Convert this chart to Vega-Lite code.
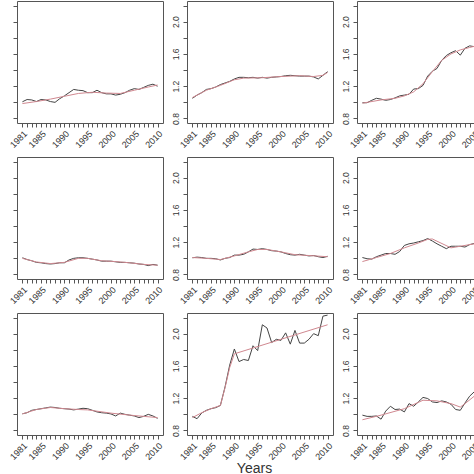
{
  "$schema": "https://vega.github.io/schema/vega-lite/v6.json",
  "padding": {"left": 7, "top": 0, "right": 0, "bottom": 0},
  "background": "white",
  "columns": 3,
  "spacing": {"row": 34, "column": 24},
  "bounds": "flush",
  "datasets": {
    "d": [
      {"p":1,"s":"obs","year":1981,"v":1.007},{"p":1,"s":"obs","year":1982,"v":1.035},{"p":1,"s":"obs","year":1983,"v":1.03},{"p":1,"s":"obs","year":1984,"v":1.01},{"p":1,"s":"obs","year":1985,"v":1.035},{"p":1,"s":"obs","year":1986,"v":1.03},{"p":1,"s":"obs","year":1987,"v":1.01},{"p":1,"s":"obs","year":1988,"v":1.0},{"p":1,"s":"obs","year":1989,"v":1.045},{"p":1,"s":"obs","year":1990,"v":1.08},{"p":1,"s":"obs","year":1991,"v":1.12},{"p":1,"s":"obs","year":1992,"v":1.16},{"p":1,"s":"obs","year":1993,"v":1.15},{"p":1,"s":"obs","year":1994,"v":1.145},{"p":1,"s":"obs","year":1995,"v":1.12},{"p":1,"s":"obs","year":1996,"v":1.12},{"p":1,"s":"obs","year":1997,"v":1.15},{"p":1,"s":"obs","year":1998,"v":1.12},{"p":1,"s":"obs","year":1999,"v":1.105},{"p":1,"s":"obs","year":2000,"v":1.105},{"p":1,"s":"obs","year":2001,"v":1.09},{"p":1,"s":"obs","year":2002,"v":1.1},{"p":1,"s":"obs","year":2003,"v":1.12},{"p":1,"s":"obs","year":2004,"v":1.15},{"p":1,"s":"obs","year":2005,"v":1.17},{"p":1,"s":"obs","year":2006,"v":1.16},{"p":1,"s":"obs","year":2007,"v":1.185},{"p":1,"s":"obs","year":2008,"v":1.21},{"p":1,"s":"obs","year":2009,"v":1.225},{"p":1,"s":"obs","year":2010,"v":1.2},
      {"p":1,"s":"fit","year":1981,"v":0.985},{"p":1,"s":"fit","year":1984,"v":1.01},{"p":1,"s":"fit","year":1987,"v":1.04},{"p":1,"s":"fit","year":1990,"v":1.075},{"p":1,"s":"fit","year":1993,"v":1.11},{"p":1,"s":"fit","year":1996,"v":1.125},{"p":1,"s":"fit","year":1999,"v":1.115},{"p":1,"s":"fit","year":2002,"v":1.11},{"p":1,"s":"fit","year":2005,"v":1.15},{"p":1,"s":"fit","year":2008,"v":1.19},{"p":1,"s":"fit","year":2010,"v":1.215},

      {"p":2,"s":"obs","year":1981,"v":1.05},{"p":2,"s":"obs","year":1982,"v":1.09},{"p":2,"s":"obs","year":1983,"v":1.12},{"p":2,"s":"obs","year":1984,"v":1.16},{"p":2,"s":"obs","year":1985,"v":1.17},{"p":2,"s":"obs","year":1986,"v":1.19},{"p":2,"s":"obs","year":1987,"v":1.22},{"p":2,"s":"obs","year":1988,"v":1.24},{"p":2,"s":"obs","year":1989,"v":1.26},{"p":2,"s":"obs","year":1990,"v":1.29},{"p":2,"s":"obs","year":1991,"v":1.31},{"p":2,"s":"obs","year":1992,"v":1.31},{"p":2,"s":"obs","year":1993,"v":1.305},{"p":2,"s":"obs","year":1994,"v":1.31},{"p":2,"s":"obs","year":1995,"v":1.3},{"p":2,"s":"obs","year":1996,"v":1.31},{"p":2,"s":"obs","year":1997,"v":1.3},{"p":2,"s":"obs","year":1998,"v":1.31},{"p":2,"s":"obs","year":1999,"v":1.315},{"p":2,"s":"obs","year":2000,"v":1.32},{"p":2,"s":"obs","year":2001,"v":1.33},{"p":2,"s":"obs","year":2002,"v":1.335},{"p":2,"s":"obs","year":2003,"v":1.33},{"p":2,"s":"obs","year":2004,"v":1.325},{"p":2,"s":"obs","year":2005,"v":1.325},{"p":2,"s":"obs","year":2006,"v":1.325},{"p":2,"s":"obs","year":2007,"v":1.315},{"p":2,"s":"obs","year":2008,"v":1.29},{"p":2,"s":"obs","year":2009,"v":1.335},{"p":2,"s":"obs","year":2010,"v":1.38},
      {"p":2,"s":"fit","year":1981,"v":1.06},{"p":2,"s":"fit","year":1984,"v":1.15},{"p":2,"s":"fit","year":1987,"v":1.21},{"p":2,"s":"fit","year":1990,"v":1.28},{"p":2,"s":"fit","year":1992,"v":1.3},{"p":2,"s":"fit","year":1996,"v":1.305},{"p":2,"s":"fit","year":2000,"v":1.32},{"p":2,"s":"fit","year":2004,"v":1.33},{"p":2,"s":"fit","year":2007,"v":1.32},{"p":2,"s":"fit","year":2009,"v":1.335},{"p":2,"s":"fit","year":2010,"v":1.37},

      {"p":3,"s":"obs","year":1981,"v":0.995},{"p":3,"s":"obs","year":1982,"v":0.995},{"p":3,"s":"obs","year":1983,"v":1.025},{"p":3,"s":"obs","year":1984,"v":1.05},{"p":3,"s":"obs","year":1985,"v":1.04},{"p":3,"s":"obs","year":1986,"v":1.025},{"p":3,"s":"obs","year":1987,"v":1.035},{"p":3,"s":"obs","year":1988,"v":1.055},{"p":3,"s":"obs","year":1989,"v":1.08},{"p":3,"s":"obs","year":1990,"v":1.09},{"p":3,"s":"obs","year":1991,"v":1.1},{"p":3,"s":"obs","year":1992,"v":1.165},{"p":3,"s":"obs","year":1993,"v":1.17},{"p":3,"s":"obs","year":1994,"v":1.21},{"p":3,"s":"obs","year":1995,"v":1.325},{"p":3,"s":"obs","year":1996,"v":1.385},{"p":3,"s":"obs","year":1997,"v":1.42},{"p":3,"s":"obs","year":1998,"v":1.52},{"p":3,"s":"obs","year":1999,"v":1.58},{"p":3,"s":"obs","year":2000,"v":1.615},{"p":3,"s":"obs","year":2001,"v":1.64},{"p":3,"s":"obs","year":2002,"v":1.585},{"p":3,"s":"obs","year":2003,"v":1.67},{"p":3,"s":"obs","year":2004,"v":1.7},{"p":3,"s":"obs","year":2005,"v":1.69},{"p":3,"s":"obs","year":2006,"v":1.66},{"p":3,"s":"obs","year":2007,"v":1.71},{"p":3,"s":"obs","year":2008,"v":1.73},{"p":3,"s":"obs","year":2009,"v":1.74},{"p":3,"s":"obs","year":2010,"v":1.76},
      {"p":3,"s":"fit","year":1981,"v":0.99},{"p":3,"s":"fit","year":1985,"v":1.03},{"p":3,"s":"fit","year":1988,"v":1.05},{"p":3,"s":"fit","year":1990,"v":1.08},{"p":3,"s":"fit","year":1992,"v":1.13},{"p":3,"s":"fit","year":1994,"v":1.23},{"p":3,"s":"fit","year":1996,"v":1.38},{"p":3,"s":"fit","year":1998,"v":1.52},{"p":3,"s":"fit","year":2000,"v":1.6},{"p":3,"s":"fit","year":2002,"v":1.65},{"p":3,"s":"fit","year":2004,"v":1.68},{"p":3,"s":"fit","year":2006,"v":1.71},{"p":3,"s":"fit","year":2008,"v":1.73},{"p":3,"s":"fit","year":2010,"v":1.75},

      {"p":4,"s":"obs","year":1981,"v":1.007},{"p":4,"s":"obs","year":1982,"v":0.985},{"p":4,"s":"obs","year":1983,"v":0.97},{"p":4,"s":"obs","year":1984,"v":0.95},{"p":4,"s":"obs","year":1985,"v":0.945},{"p":4,"s":"obs","year":1986,"v":0.935},{"p":4,"s":"obs","year":1987,"v":0.93},{"p":4,"s":"obs","year":1988,"v":0.935},{"p":4,"s":"obs","year":1989,"v":0.945},{"p":4,"s":"obs","year":1990,"v":0.945},{"p":4,"s":"obs","year":1991,"v":0.98},{"p":4,"s":"obs","year":1992,"v":1.0},{"p":4,"s":"obs","year":1993,"v":1.007},{"p":4,"s":"obs","year":1994,"v":1.007},{"p":4,"s":"obs","year":1995,"v":1.0},{"p":4,"s":"obs","year":1996,"v":0.99},{"p":4,"s":"obs","year":1997,"v":0.98},{"p":4,"s":"obs","year":1998,"v":0.965},{"p":4,"s":"obs","year":1999,"v":0.965},{"p":4,"s":"obs","year":2000,"v":0.965},{"p":4,"s":"obs","year":2001,"v":0.957},{"p":4,"s":"obs","year":2002,"v":0.95},{"p":4,"s":"obs","year":2003,"v":0.95},{"p":4,"s":"obs","year":2004,"v":0.945},{"p":4,"s":"obs","year":2005,"v":0.94},{"p":4,"s":"obs","year":2006,"v":0.93},{"p":4,"s":"obs","year":2007,"v":0.925},{"p":4,"s":"obs","year":2008,"v":0.91},{"p":4,"s":"obs","year":2009,"v":0.925},{"p":4,"s":"obs","year":2010,"v":0.915},
      {"p":4,"s":"fit","year":1981,"v":1.0},{"p":4,"s":"fit","year":1984,"v":0.955},{"p":4,"s":"fit","year":1987,"v":0.935},{"p":4,"s":"fit","year":1990,"v":0.95},{"p":4,"s":"fit","year":1993,"v":1.0},{"p":4,"s":"fit","year":1995,"v":1.0},{"p":4,"s":"fit","year":1998,"v":0.97},{"p":4,"s":"fit","year":2001,"v":0.96},{"p":4,"s":"fit","year":2004,"v":0.945},{"p":4,"s":"fit","year":2007,"v":0.925},{"p":4,"s":"fit","year":2010,"v":0.915},

      {"p":5,"s":"obs","year":1981,"v":1.007},{"p":5,"s":"obs","year":1982,"v":1.015},{"p":5,"s":"obs","year":1983,"v":1.01},{"p":5,"s":"obs","year":1984,"v":1.0},{"p":5,"s":"obs","year":1985,"v":1.0},{"p":5,"s":"obs","year":1986,"v":0.995},{"p":5,"s":"obs","year":1987,"v":0.98},{"p":5,"s":"obs","year":1988,"v":1.0},{"p":5,"s":"obs","year":1989,"v":1.01},{"p":5,"s":"obs","year":1990,"v":1.04},{"p":5,"s":"obs","year":1991,"v":1.04},{"p":5,"s":"obs","year":1992,"v":1.05},{"p":5,"s":"obs","year":1993,"v":1.08},{"p":5,"s":"obs","year":1994,"v":1.115},{"p":5,"s":"obs","year":1995,"v":1.11},{"p":5,"s":"obs","year":1996,"v":1.12},{"p":5,"s":"obs","year":1997,"v":1.11},{"p":5,"s":"obs","year":1998,"v":1.095},{"p":5,"s":"obs","year":1999,"v":1.09},{"p":5,"s":"obs","year":2000,"v":1.08},{"p":5,"s":"obs","year":2001,"v":1.06},{"p":5,"s":"obs","year":2002,"v":1.045},{"p":5,"s":"obs","year":2003,"v":1.04},{"p":5,"s":"obs","year":2004,"v":1.05},{"p":5,"s":"obs","year":2005,"v":1.04},{"p":5,"s":"obs","year":2006,"v":1.03},{"p":5,"s":"obs","year":2007,"v":1.035},{"p":5,"s":"obs","year":2008,"v":1.02},{"p":5,"s":"obs","year":2009,"v":1.01},{"p":5,"s":"obs","year":2010,"v":1.025},
      {"p":5,"s":"fit","year":1981,"v":1.01},{"p":5,"s":"fit","year":1984,"v":1.0},{"p":5,"s":"fit","year":1987,"v":0.985},{"p":5,"s":"fit","year":1990,"v":1.03},{"p":5,"s":"fit","year":1993,"v":1.08},{"p":5,"s":"fit","year":1995,"v":1.11},{"p":5,"s":"fit","year":1997,"v":1.11},{"p":5,"s":"fit","year":2000,"v":1.08},{"p":5,"s":"fit","year":2003,"v":1.045},{"p":5,"s":"fit","year":2006,"v":1.035},{"p":5,"s":"fit","year":2010,"v":1.02},

      {"p":6,"s":"obs","year":1981,"v":1.01},{"p":6,"s":"obs","year":1982,"v":0.995},{"p":6,"s":"obs","year":1983,"v":0.99},{"p":6,"s":"obs","year":1984,"v":1.02},{"p":6,"s":"obs","year":1985,"v":1.04},{"p":6,"s":"obs","year":1986,"v":1.06},{"p":6,"s":"obs","year":1987,"v":1.06},{"p":6,"s":"obs","year":1988,"v":1.05},{"p":6,"s":"obs","year":1989,"v":1.085},{"p":6,"s":"obs","year":1990,"v":1.16},{"p":6,"s":"obs","year":1991,"v":1.18},{"p":6,"s":"obs","year":1992,"v":1.19},{"p":6,"s":"obs","year":1993,"v":1.205},{"p":6,"s":"obs","year":1994,"v":1.22},{"p":6,"s":"obs","year":1995,"v":1.245},{"p":6,"s":"obs","year":1996,"v":1.215},{"p":6,"s":"obs","year":1997,"v":1.18},{"p":6,"s":"obs","year":1998,"v":1.15},{"p":6,"s":"obs","year":1999,"v":1.12},{"p":6,"s":"obs","year":2000,"v":1.15},{"p":6,"s":"obs","year":2001,"v":1.15},{"p":6,"s":"obs","year":2002,"v":1.15},{"p":6,"s":"obs","year":2003,"v":1.14},{"p":6,"s":"obs","year":2004,"v":1.17},{"p":6,"s":"obs","year":2005,"v":1.185},{"p":6,"s":"obs","year":2006,"v":1.18},{"p":6,"s":"obs","year":2007,"v":1.19},{"p":6,"s":"obs","year":2008,"v":1.2},{"p":6,"s":"obs","year":2009,"v":1.19},{"p":6,"s":"obs","year":2010,"v":1.2},
      {"p":6,"s":"fit","year":1981,"v":0.96},{"p":6,"s":"fit","year":1984,"v":1.01},{"p":6,"s":"fit","year":1987,"v":1.06},{"p":6,"s":"fit","year":1990,"v":1.13},{"p":6,"s":"fit","year":1993,"v":1.19},{"p":6,"s":"fit","year":1995,"v":1.235},{"p":6,"s":"fit","year":1996,"v":1.24},{"p":6,"s":"fit","year":2000,"v":1.13},{"p":6,"s":"fit","year":2002,"v":1.15},{"p":6,"s":"fit","year":2005,"v":1.18},{"p":6,"s":"fit","year":2010,"v":1.2},

      {"p":7,"s":"obs","year":1981,"v":1.007},{"p":7,"s":"obs","year":1982,"v":1.02},{"p":7,"s":"obs","year":1983,"v":1.05},{"p":7,"s":"obs","year":1984,"v":1.06},{"p":7,"s":"obs","year":1985,"v":1.07},{"p":7,"s":"obs","year":1986,"v":1.08},{"p":7,"s":"obs","year":1987,"v":1.09},{"p":7,"s":"obs","year":1988,"v":1.085},{"p":7,"s":"obs","year":1989,"v":1.075},{"p":7,"s":"obs","year":1990,"v":1.07},{"p":7,"s":"obs","year":1991,"v":1.065},{"p":7,"s":"obs","year":1992,"v":1.055},{"p":7,"s":"obs","year":1993,"v":1.065},{"p":7,"s":"obs","year":1994,"v":1.075},{"p":7,"s":"obs","year":1995,"v":1.07},{"p":7,"s":"obs","year":1996,"v":1.05},{"p":7,"s":"obs","year":1997,"v":1.03},{"p":7,"s":"obs","year":1998,"v":1.02},{"p":7,"s":"obs","year":1999,"v":1.015},{"p":7,"s":"obs","year":2000,"v":1.005},{"p":7,"s":"obs","year":2001,"v":0.98},{"p":7,"s":"obs","year":2002,"v":1.015},{"p":7,"s":"obs","year":2003,"v":1.0},{"p":7,"s":"obs","year":2004,"v":0.99},{"p":7,"s":"obs","year":2005,"v":0.98},{"p":7,"s":"obs","year":2006,"v":0.96},{"p":7,"s":"obs","year":2007,"v":0.975},{"p":7,"s":"obs","year":2008,"v":1.0},{"p":7,"s":"obs","year":2009,"v":0.98},{"p":7,"s":"obs","year":2010,"v":0.95},
      {"p":7,"s":"fit","year":1981,"v":1.005},{"p":7,"s":"fit","year":1984,"v":1.06},{"p":7,"s":"fit","year":1987,"v":1.085},{"p":7,"s":"fit","year":1990,"v":1.07},{"p":7,"s":"fit","year":1993,"v":1.06},{"p":7,"s":"fit","year":1995,"v":1.055},{"p":7,"s":"fit","year":2000,"v":1.015},{"p":7,"s":"fit","year":2005,"v":0.985},{"p":7,"s":"fit","year":2010,"v":0.96},

      {"p":8,"s":"obs","year":1981,"v":0.975},{"p":8,"s":"obs","year":1982,"v":0.946},{"p":8,"s":"obs","year":1983,"v":1.017},{"p":8,"s":"obs","year":1984,"v":1.05},{"p":8,"s":"obs","year":1985,"v":1.07},{"p":8,"s":"obs","year":1986,"v":1.083},{"p":8,"s":"obs","year":1987,"v":1.11},{"p":8,"s":"obs","year":1988,"v":1.34},{"p":8,"s":"obs","year":1989,"v":1.61},{"p":8,"s":"obs","year":1990,"v":1.81},{"p":8,"s":"obs","year":1991,"v":1.654},{"p":8,"s":"obs","year":1992,"v":1.68},{"p":8,"s":"obs","year":1993,"v":1.667},{"p":8,"s":"obs","year":1994,"v":1.85},{"p":8,"s":"obs","year":1995,"v":1.79},{"p":8,"s":"obs","year":1996,"v":2.11},{"p":8,"s":"obs","year":1997,"v":2.07},{"p":8,"s":"obs","year":1998,"v":1.89},{"p":8,"s":"obs","year":1999,"v":1.93},{"p":8,"s":"obs","year":2000,"v":1.917},{"p":8,"s":"obs","year":2001,"v":2.01},{"p":8,"s":"obs","year":2002,"v":1.87},{"p":8,"s":"obs","year":2003,"v":2.04},{"p":8,"s":"obs","year":2004,"v":1.883},{"p":8,"s":"obs","year":2005,"v":1.883},{"p":8,"s":"obs","year":2006,"v":1.93},{"p":8,"s":"obs","year":2007,"v":2.0},{"p":8,"s":"obs","year":2008,"v":1.975},{"p":8,"s":"obs","year":2009,"v":2.217},{"p":8,"s":"obs","year":2010,"v":2.23},
      {"p":8,"s":"fit","year":1981,"v":0.96},{"p":8,"s":"fit","year":1983,"v":1.02},{"p":8,"s":"fit","year":1985,"v":1.07},{"p":8,"s":"fit","year":1987,"v":1.11},{"p":8,"s":"fit","year":1988,"v":1.33},{"p":8,"s":"fit","year":1989,"v":1.58},{"p":8,"s":"fit","year":1990,"v":1.75},{"p":8,"s":"fit","year":2010,"v":2.11},

      {"p":9,"s":"obs","year":1981,"v":0.99},{"p":9,"s":"obs","year":1982,"v":0.975},{"p":9,"s":"obs","year":1983,"v":0.975},{"p":9,"s":"obs","year":1984,"v":0.98},{"p":9,"s":"obs","year":1985,"v":0.94},{"p":9,"s":"obs","year":1986,"v":1.04},{"p":9,"s":"obs","year":1987,"v":1.1},{"p":9,"s":"obs","year":1988,"v":1.06},{"p":9,"s":"obs","year":1989,"v":1.065},{"p":9,"s":"obs","year":1990,"v":1.03},{"p":9,"s":"obs","year":1991,"v":1.133},{"p":9,"s":"obs","year":1992,"v":1.1},{"p":9,"s":"obs","year":1993,"v":1.154},{"p":9,"s":"obs","year":1994,"v":1.21},{"p":9,"s":"obs","year":1995,"v":1.196},{"p":9,"s":"obs","year":1996,"v":1.154},{"p":9,"s":"obs","year":1997,"v":1.146},{"p":9,"s":"obs","year":1998,"v":1.167},{"p":9,"s":"obs","year":1999,"v":1.154},{"p":9,"s":"obs","year":2000,"v":1.125},{"p":9,"s":"obs","year":2001,"v":1.06},{"p":9,"s":"obs","year":2002,"v":1.05},{"p":9,"s":"obs","year":2003,"v":1.14},{"p":9,"s":"obs","year":2004,"v":1.225},{"p":9,"s":"obs","year":2005,"v":1.28},{"p":9,"s":"obs","year":2006,"v":1.3},{"p":9,"s":"obs","year":2007,"v":1.32},{"p":9,"s":"obs","year":2008,"v":1.3},{"p":9,"s":"obs","year":2009,"v":1.33},{"p":9,"s":"obs","year":2010,"v":1.35},
      {"p":9,"s":"fit","year":1981,"v":0.933},{"p":9,"s":"fit","year":1985,"v":0.99},{"p":9,"s":"fit","year":1990,"v":1.07},{"p":9,"s":"fit","year":1994,"v":1.175},{"p":9,"s":"fit","year":1997,"v":1.167},{"p":9,"s":"fit","year":2000,"v":1.133},{"p":9,"s":"fit","year":2002,"v":1.09},{"p":9,"s":"fit","year":2003,"v":1.133},{"p":9,"s":"fit","year":2005,"v":1.225},{"p":9,"s":"fit","year":2006,"v":1.25},{"p":9,"s":"fit","year":2010,"v":1.33}
    ]
  },
  "concat": [
    {
      "width": 146, "height": 122,
      "data": {"name": "d"},
      "transform": [{"filter": "datum.p == 1"}],
      "mark": {"type": "line", "strokeWidth": 1, "clip": true},
      "encoding": {
        "x": {"field": "year", "type": "quantitative", "title": null,
          "scale": {"domain": [1979.84, 2011.16], "nice": false, "zero": false},
          "axis": {"values": [1981,1982,1983,1984,1985,1986,1987,1988,1989,1990,1991,1992,1993,1994,1995,1996,1997,1998,1999,2000,2001,2002,2003,2004,2005,2006,2007,2008,2009,2010], "format": "d", "labelExpr": "indexof(['1981','1985','1990','1995','2000','2005','2010'], datum.label) >= 0 ? datum.label : ''", "labelAngle": -45, "labelOverlap": false, "labelFlush": false, "labelPadding": 2}},
        "y": {"field": "v", "type": "quantitative", "title": null,
          "scale": {"domain": [0.744, 2.256], "nice": false, "zero": false},
          "axis": {"values": [0.8,1.0,1.2,1.4,1.6,1.8,2.0,2.2], "labels": false}},
        "color": {"field": "s", "type": "nominal", "legend": null, "scale": {"domain": ["obs","fit"], "range": ["#444444","#d08890"]}}
      }
    },
    {
      "width": 146, "height": 122,
      "data": {"name": "d"},
      "transform": [{"filter": "datum.p == 2"}],
      "mark": {"type": "line", "strokeWidth": 1, "clip": true},
      "encoding": {
        "x": {"field": "year", "type": "quantitative", "title": null,
          "scale": {"domain": [1979.84, 2011.16], "nice": false, "zero": false},
          "axis": {"values": [1981,1982,1983,1984,1985,1986,1987,1988,1989,1990,1991,1992,1993,1994,1995,1996,1997,1998,1999,2000,2001,2002,2003,2004,2005,2006,2007,2008,2009,2010], "format": "d", "labelExpr": "indexof(['1981','1985','1990','1995','2000','2005','2010'], datum.label) >= 0 ? datum.label : ''", "labelAngle": -45, "labelOverlap": false, "labelFlush": false, "labelPadding": 2}},
        "y": {"field": "v", "type": "quantitative", "title": null,
          "scale": {"domain": [0.744, 2.256], "nice": false, "zero": false},
          "axis": {"values": [0.8,1.0,1.2,1.4,1.6,1.8,2.0,2.2], "format": ".1f", "labelExpr": "indexof(['0.8','1.2','1.6','2.0'], datum.label) >= 0 ? datum.label : ''", "labelAngle": -90, "labelOverlap": false, "labelFlush": false, "labelPadding": 3}},
        "color": {"field": "s", "type": "nominal", "legend": null, "scale": {"domain": ["obs","fit"], "range": ["#444444","#d08890"]}}
      }
    },
    {
      "width": 146, "height": 122,
      "data": {"name": "d"},
      "transform": [{"filter": "datum.p == 3"}],
      "mark": {"type": "line", "strokeWidth": 1, "clip": true},
      "encoding": {
        "x": {"field": "year", "type": "quantitative", "title": null,
          "scale": {"domain": [1979.84, 2011.16], "nice": false, "zero": false},
          "axis": {"values": [1981,1982,1983,1984,1985,1986,1987,1988,1989,1990,1991,1992,1993,1994,1995,1996,1997,1998,1999,2000,2001,2002,2003,2004,2005,2006,2007,2008,2009,2010], "format": "d", "labelExpr": "indexof(['1981','1985','1990','1995','2000','2005','2010'], datum.label) >= 0 ? datum.label : ''", "labelAngle": -45, "labelOverlap": false, "labelFlush": false, "labelPadding": 2}},
        "y": {"field": "v", "type": "quantitative", "title": null,
          "scale": {"domain": [0.744, 2.256], "nice": false, "zero": false},
          "axis": {"values": [0.8,1.0,1.2,1.4,1.6,1.8,2.0,2.2], "format": ".1f", "labelExpr": "indexof(['0.8','1.2','1.6','2.0'], datum.label) >= 0 ? datum.label : ''", "labelAngle": -90, "labelOverlap": false, "labelFlush": false, "labelPadding": 3}},
        "color": {"field": "s", "type": "nominal", "legend": null, "scale": {"domain": ["obs","fit"], "range": ["#444444","#d08890"]}}
      }
    },
    {
      "width": 146, "height": 122,
      "data": {"name": "d"},
      "transform": [{"filter": "datum.p == 4"}],
      "mark": {"type": "line", "strokeWidth": 1, "clip": true},
      "encoding": {
        "x": {"field": "year", "type": "quantitative", "title": null,
          "scale": {"domain": [1979.84, 2011.16], "nice": false, "zero": false},
          "axis": {"values": [1981,1982,1983,1984,1985,1986,1987,1988,1989,1990,1991,1992,1993,1994,1995,1996,1997,1998,1999,2000,2001,2002,2003,2004,2005,2006,2007,2008,2009,2010], "format": "d", "labelExpr": "indexof(['1981','1985','1990','1995','2000','2005','2010'], datum.label) >= 0 ? datum.label : ''", "labelAngle": -45, "labelOverlap": false, "labelFlush": false, "labelPadding": 2}},
        "y": {"field": "v", "type": "quantitative", "title": null,
          "scale": {"domain": [0.744, 2.256], "nice": false, "zero": false},
          "axis": {"values": [0.8,1.0,1.2,1.4,1.6,1.8,2.0,2.2], "labels": false}},
        "color": {"field": "s", "type": "nominal", "legend": null, "scale": {"domain": ["obs","fit"], "range": ["#444444","#d08890"]}}
      }
    },
    {
      "width": 146, "height": 122,
      "data": {"name": "d"},
      "transform": [{"filter": "datum.p == 5"}],
      "mark": {"type": "line", "strokeWidth": 1, "clip": true},
      "encoding": {
        "x": {"field": "year", "type": "quantitative", "title": null,
          "scale": {"domain": [1979.84, 2011.16], "nice": false, "zero": false},
          "axis": {"values": [1981,1982,1983,1984,1985,1986,1987,1988,1989,1990,1991,1992,1993,1994,1995,1996,1997,1998,1999,2000,2001,2002,2003,2004,2005,2006,2007,2008,2009,2010], "format": "d", "labelExpr": "indexof(['1981','1985','1990','1995','2000','2005','2010'], datum.label) >= 0 ? datum.label : ''", "labelAngle": -45, "labelOverlap": false, "labelFlush": false, "labelPadding": 2}},
        "y": {"field": "v", "type": "quantitative", "title": null,
          "scale": {"domain": [0.744, 2.256], "nice": false, "zero": false},
          "axis": {"values": [0.8,1.0,1.2,1.4,1.6,1.8,2.0,2.2], "format": ".1f", "labelExpr": "indexof(['0.8','1.2','1.6','2.0'], datum.label) >= 0 ? datum.label : ''", "labelAngle": -90, "labelOverlap": false, "labelFlush": false, "labelPadding": 3}},
        "color": {"field": "s", "type": "nominal", "legend": null, "scale": {"domain": ["obs","fit"], "range": ["#444444","#d08890"]}}
      }
    },
    {
      "width": 146, "height": 122,
      "data": {"name": "d"},
      "transform": [{"filter": "datum.p == 6"}],
      "mark": {"type": "line", "strokeWidth": 1, "clip": true},
      "encoding": {
        "x": {"field": "year", "type": "quantitative", "title": null,
          "scale": {"domain": [1979.84, 2011.16], "nice": false, "zero": false},
          "axis": {"values": [1981,1982,1983,1984,1985,1986,1987,1988,1989,1990,1991,1992,1993,1994,1995,1996,1997,1998,1999,2000,2001,2002,2003,2004,2005,2006,2007,2008,2009,2010], "format": "d", "labelExpr": "indexof(['1981','1985','1990','1995','2000','2005','2010'], datum.label) >= 0 ? datum.label : ''", "labelAngle": -45, "labelOverlap": false, "labelFlush": false, "labelPadding": 2}},
        "y": {"field": "v", "type": "quantitative", "title": null,
          "scale": {"domain": [0.744, 2.256], "nice": false, "zero": false},
          "axis": {"values": [0.8,1.0,1.2,1.4,1.6,1.8,2.0,2.2], "format": ".1f", "labelExpr": "indexof(['0.8','1.2','1.6','2.0'], datum.label) >= 0 ? datum.label : ''", "labelAngle": -90, "labelOverlap": false, "labelFlush": false, "labelPadding": 3}},
        "color": {"field": "s", "type": "nominal", "legend": null, "scale": {"domain": ["obs","fit"], "range": ["#444444","#d08890"]}}
      }
    },
    {
      "width": 146, "height": 122,
      "data": {"name": "d"},
      "transform": [{"filter": "datum.p == 7"}],
      "mark": {"type": "line", "strokeWidth": 1, "clip": true},
      "encoding": {
        "x": {"field": "year", "type": "quantitative", "title": null,
          "scale": {"domain": [1979.84, 2011.16], "nice": false, "zero": false},
          "axis": {"values": [1981,1982,1983,1984,1985,1986,1987,1988,1989,1990,1991,1992,1993,1994,1995,1996,1997,1998,1999,2000,2001,2002,2003,2004,2005,2006,2007,2008,2009,2010], "format": "d", "labelExpr": "indexof(['1981','1985','1990','1995','2000','2005','2010'], datum.label) >= 0 ? datum.label : ''", "labelAngle": -45, "labelOverlap": false, "labelFlush": false, "labelPadding": 2}},
        "y": {"field": "v", "type": "quantitative", "title": null,
          "scale": {"domain": [0.744, 2.256], "nice": false, "zero": false},
          "axis": {"values": [0.8,1.0,1.2,1.4,1.6,1.8,2.0,2.2], "labels": false}},
        "color": {"field": "s", "type": "nominal", "legend": null, "scale": {"domain": ["obs","fit"], "range": ["#444444","#d08890"]}}
      }
    },
    {
      "width": 146, "height": 122,
      "data": {"name": "d"},
      "transform": [{"filter": "datum.p == 8"}],
      "mark": {"type": "line", "strokeWidth": 1, "clip": true},
      "encoding": {
        "x": {"field": "year", "type": "quantitative", "title": "Years",
          "scale": {"domain": [1979.84, 2011.16], "nice": false, "zero": false},
          "axis": {"values": [1981,1982,1983,1984,1985,1986,1987,1988,1989,1990,1991,1992,1993,1994,1995,1996,1997,1998,1999,2000,2001,2002,2003,2004,2005,2006,2007,2008,2009,2010], "format": "d", "labelExpr": "indexof(['1981','1985','1990','1995','2000','2005','2010'], datum.label) >= 0 ? datum.label : ''", "labelAngle": -45, "labelOverlap": false, "labelFlush": false, "labelPadding": 2, "titleX": 67, "titlePadding": 0}},
        "y": {"field": "v", "type": "quantitative", "title": null,
          "scale": {"domain": [0.744, 2.256], "nice": false, "zero": false},
          "axis": {"values": [0.8,1.0,1.2,1.4,1.6,1.8,2.0,2.2], "format": ".1f", "labelExpr": "indexof(['0.8','1.2','1.6','2.0'], datum.label) >= 0 ? datum.label : ''", "labelAngle": -90, "labelOverlap": false, "labelFlush": false, "labelPadding": 3}},
        "color": {"field": "s", "type": "nominal", "legend": null, "scale": {"domain": ["obs","fit"], "range": ["#444444","#d08890"]}}
      }
    },
    {
      "width": 146, "height": 122,
      "data": {"name": "d"},
      "transform": [{"filter": "datum.p == 9"}],
      "mark": {"type": "line", "strokeWidth": 1, "clip": true},
      "encoding": {
        "x": {"field": "year", "type": "quantitative", "title": null,
          "scale": {"domain": [1979.84, 2011.16], "nice": false, "zero": false},
          "axis": {"values": [1981,1982,1983,1984,1985,1986,1987,1988,1989,1990,1991,1992,1993,1994,1995,1996,1997,1998,1999,2000,2001,2002,2003,2004,2005,2006,2007,2008,2009,2010], "format": "d", "labelExpr": "indexof(['1981','1985','1990','1995','2000','2005','2010'], datum.label) >= 0 ? datum.label : ''", "labelAngle": -45, "labelOverlap": false, "labelFlush": false, "labelPadding": 2}},
        "y": {"field": "v", "type": "quantitative", "title": null,
          "scale": {"domain": [0.744, 2.256], "nice": false, "zero": false},
          "axis": {"values": [0.8,1.0,1.2,1.4,1.6,1.8,2.0,2.2], "format": ".1f", "labelExpr": "indexof(['0.8','1.2','1.6','2.0'], datum.label) >= 0 ? datum.label : ''", "labelAngle": -90, "labelOverlap": false, "labelFlush": false, "labelPadding": 3}},
        "color": {"field": "s", "type": "nominal", "legend": null, "scale": {"domain": ["obs","fit"], "range": ["#444444","#d08890"]}}
      }
    }
  ],
  "resolve": {"scale": {"color": "shared"}},
  "config": {
    "view": {"stroke": "#555555", "strokeWidth": 1},
    "axis": {
      "domain": false, "grid": false,
      "tickColor": "#555555", "tickSize": 4, "tickWidth": 1,
      "labelFont": "Liberation Sans", "labelFontSize": 8.5, "labelColor": "#333333",
      "titleFont": "Liberation Sans", "titleFontSize": 14, "titleFontWeight": "normal", "titleColor": "#333333"
    },
    "axisX": {"labelFontSize": 9}
  }
}
